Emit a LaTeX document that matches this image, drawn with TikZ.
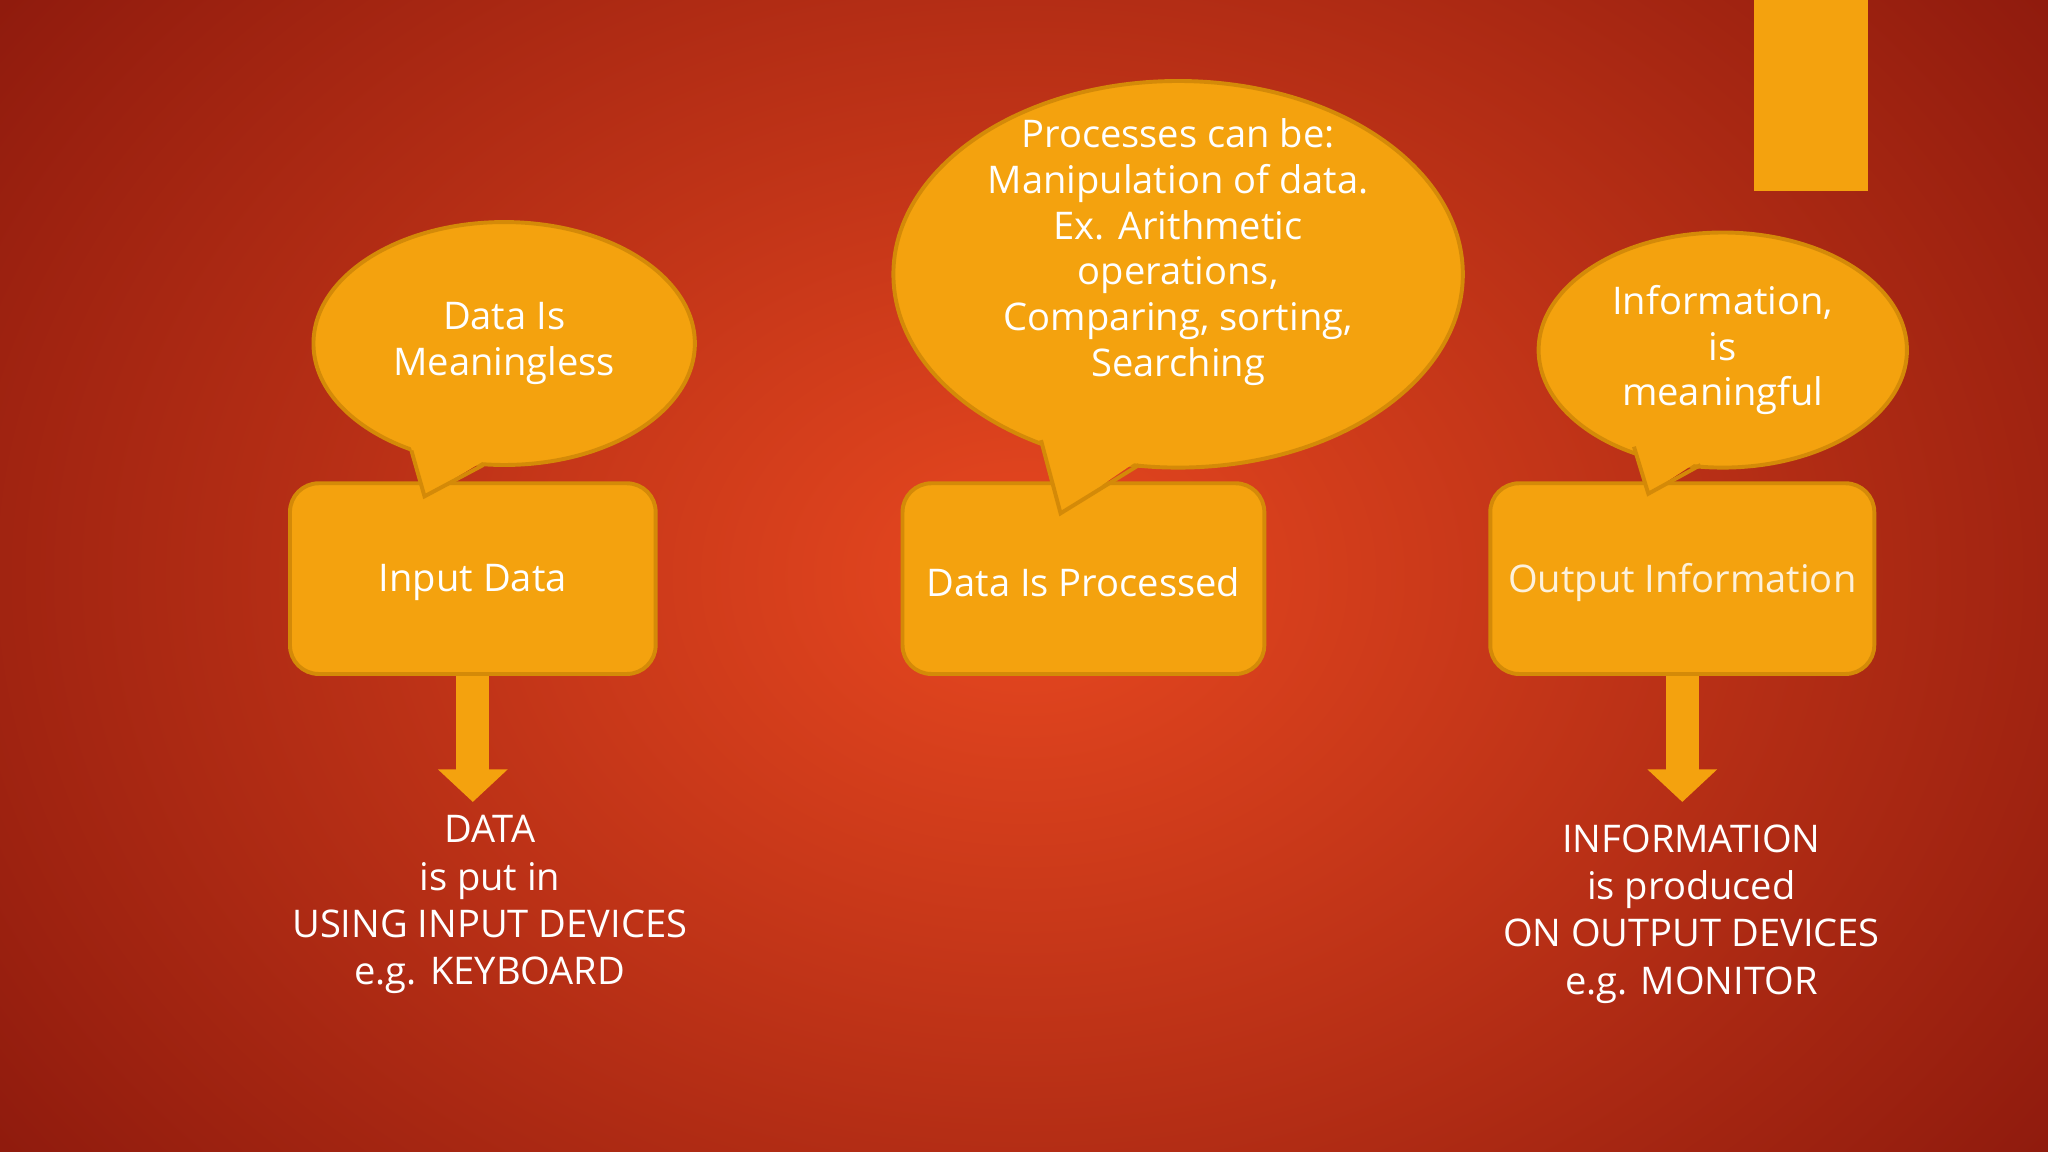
\documentclass[tikz,border=0pt]{standalone}
\usepackage{fontspec}
\setmainfont{Open Sans}
\usetikzlibrary{shapes.geometric,arrows.meta}
\definecolor{bgin}{HTML}{E84820}
\definecolor{bgout}{HTML}{8A180C}
\definecolor{org}{HTML}{F4A20E}
\definecolor{orgd}{HTML}{D48A08}
\tikzset{
  bub/.style={ellipse,fill=org,draw=orgd,line width=0.3mm,inner sep=0pt,align=center,text=white,font=\fontsize{8.3}{10}\selectfont},
  boxn/.style={rectangle,rounded corners=2.2mm,fill=org,draw=orgd,line width=0.3mm,align=center,text=white,font=\fontsize{8.3}{10}\selectfont},
  lab/.style={align=center,text=white,font=\fontsize{8.3}{10.3}\selectfont},
  arr/.style={draw=org,line width=2.5mm,-{Triangle[width=5.2mm,length=2.5mm]}},
}
\begin{document}
\begin{tikzpicture}[x=0.1mm,y=-0.1mm]
\useasboundingbox (0,0) rectangle (1568,882);
\shade[inner color=bgin,outer color=bgout] (-250,-350) rectangle (1818,1232);
\fill[org] (1343,0) rectangle (1430,146);
% boxes
\node[boxn,minimum width=28mm,minimum height=14.6mm] (b1) at (362,443) {};
\node[boxn,minimum width=27.7mm,minimum height=14.6mm] (b2) at (829.5,443) {};
\node[boxn,minimum width=29.4mm,minimum height=14.6mm] (b3) at (1288,443) {};
\node[lab] (l1) at (362,446) {Input Data};
\node[lab] (l2) at (829.5,446) {Data Is Processed};
\node[lab,text=white!85!org] (l3) at (1288,446) {Output Information};
% bubbles
\node[bub,minimum width=29.2mm,minimum height=18.6mm] (e1) at (386,263) {Data Is\\Meaningless};
\fill[org] (314,340) -- (372,352) -- (325,380) -- cycle;
\draw[orgd,line width=0.3mm] (315,345) -- (325,380) -- (370,356);
\node[bub,minimum width=43.6mm,minimum height=29.6mm] (e2) at (902,210) {};
\node[lab,font=\fontsize{8.3}{10}\selectfont] (t2) at (902,193) {Processes can be:\\Manipulation of data.\\Ex. Arithmetic\\operations,\\Comparing, sorting,\\Searching};
\fill[org] (795,330) -- (875,350) -- (812,393) -- cycle;
\draw[orgd,line width=0.3mm] (797,337) -- (812,393) -- (872,356);
\node[bub,minimum width=28.2mm,minimum height=18mm] (e3) at (1319,268) {Information,\\is\\meaningful};
\fill[org] (1249,335) -- (1305,350) -- (1262,378) -- cycle;
\draw[orgd,line width=0.3mm] (1251,342) -- (1262,378) -- (1302,356);
% arrows
\coordinate (a1) at (362,614);
\coordinate (a3) at (1288,614);
\draw[arr] (b1.south) -- (a1);
\draw[arr] (b3.south) -- (a3);
\node[lab,anchor=north] (t1) at (375,612) {DATA\\is put in\\USING INPUT DEVICES\\e.g. KEYBOARD};
\node[lab,anchor=north] (t3) at (1295,619) {INFORMATION\\is produced\\ON OUTPUT DEVICES\\e.g. MONITOR};
\end{tikzpicture}
\end{document}
